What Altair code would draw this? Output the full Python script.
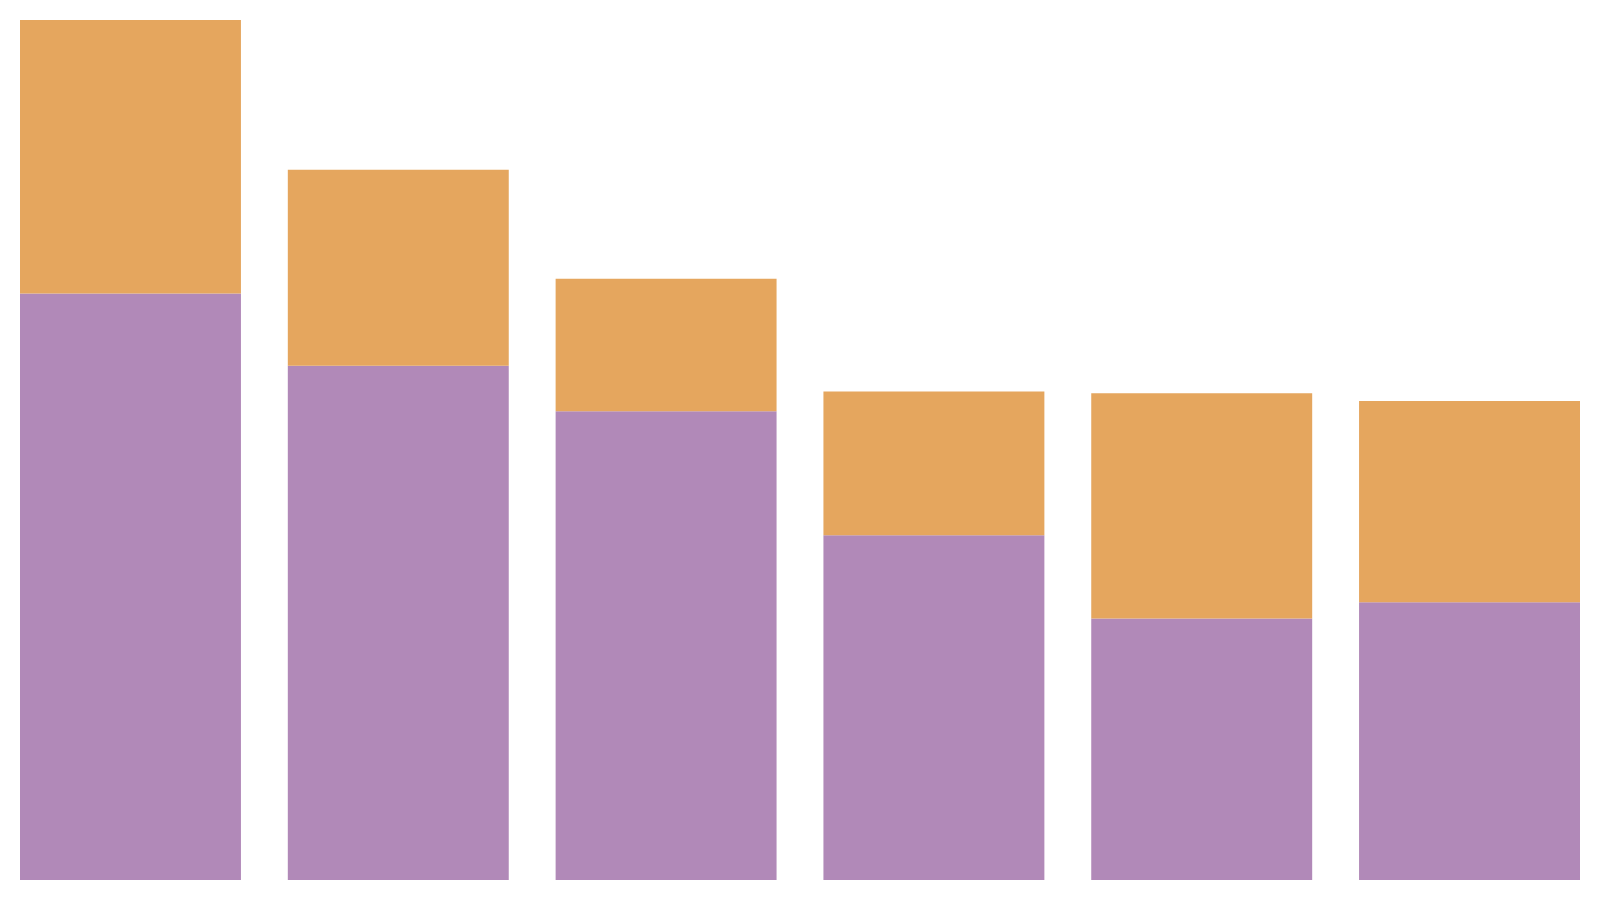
import altair as alt
import pandas as pd

categories = ["A", "B", "C", "D", "E", "F"]
bottom_values = [68.2, 59.8, 54.5, 40.1, 30.4, 32.3]
top_values = [31.8, 22.8, 15.4, 16.7, 26.2, 23.4]
series = ["bottom", "top"]
colors = ["#B189B8", "#E5A65E"]

rows = []
for c, b, t in zip(categories, bottom_values, top_values):
    rows.append({"cat": c, "series": "bottom", "value": b, "ord": 0})
    rows.append({"cat": c, "series": "top", "value": t, "ord": 1})
df = pd.DataFrame(rows)

chart = alt.Chart(df).mark_bar(strokeWidth=0).encode(
    x=alt.X("cat:N", sort=categories, axis=None,
            scale=alt.Scale(paddingInner=0.175, paddingOuter=0)),
    y=alt.Y("value:Q", stack="zero", axis=None,
            scale=alt.Scale(domain=[0, 100], nice=False, zero=True)),
    color=alt.Color("series:N", scale=alt.Scale(domain=series, range=colors), legend=None),
    order=alt.Order("ord:Q", sort="ascending"),
).properties(
    width=1560,
    height=860,
    autosize=alt.AutoSizeParams(type="none"),
    padding={"left": 12, "top": 12, "right": 0, "bottom": 0},
).configure_view(stroke=None)

chart.save("out.html", embed_options={"renderer": "svg", "actions": False})
